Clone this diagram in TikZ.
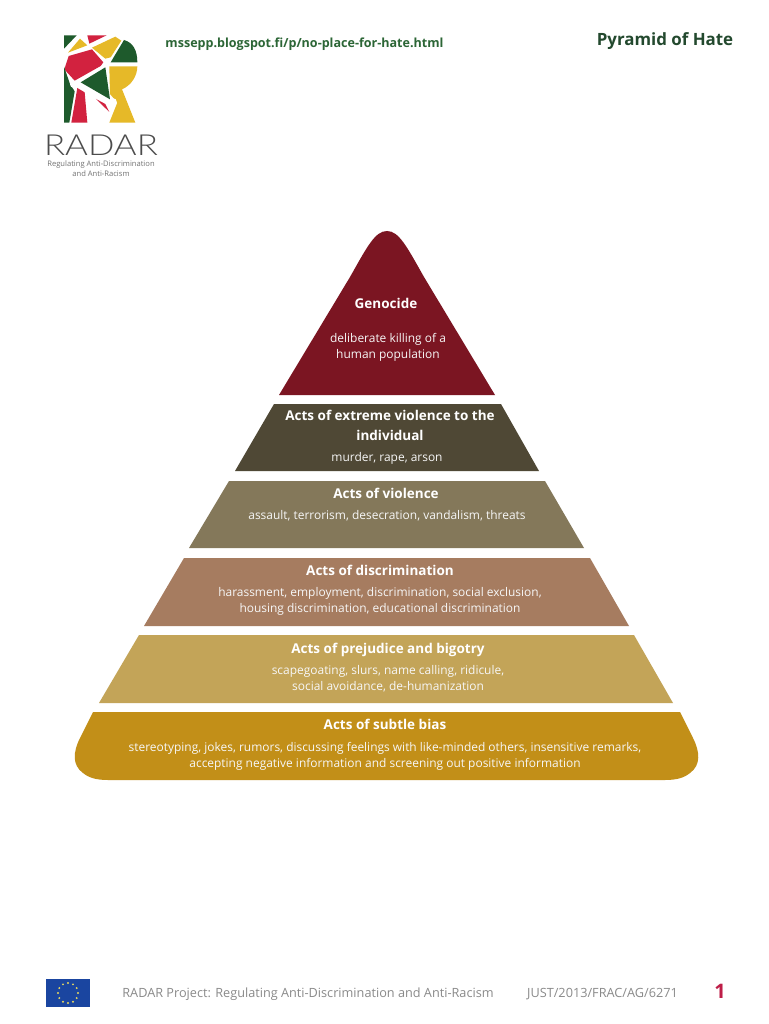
\documentclass[tikz,border=0pt]{standalone}
\usepackage{fontspec}
\setmainfont{Open Sans}
\newfontfamily\logofont{Lato Light}
\usetikzlibrary{shapes.geometric}
\definecolor{cGeno}{HTML}{7B1522}
\definecolor{cExt}{HTML}{4F4835}
\definecolor{cVio}{HTML}{84785A}
\definecolor{cDis}{HTML}{A67C60}
\definecolor{cPre}{HTML}{C3A458}
\definecolor{cBias}{HTML}{C28F18}
\definecolor{lRed}{HTML}{D2223F}
\definecolor{lGreen}{HTML}{1E5A2C}
\definecolor{lYellow}{HTML}{E6B928}
\definecolor{cHead}{HTML}{2C6636}
\definecolor{cTitle}{HTML}{23492E}
\definecolor{cFoot}{HTML}{8A8A8A}
\definecolor{cEU}{HTML}{1A45A0}
\definecolor{cStar}{HTML}{E8D860}
\definecolor{cPage}{HTML}{BE1E48}
\tikzset{
  band/.style={draw=none},
  ttl/.style={text=white,font=\fontsize{13.5}{15}\selectfont\bfseries,align=center,anchor=center,inner sep=0pt},
  sub/.style={text=white!97!black,font=\fontsize{11.95}{16}\selectfont,align=center,anchor=center,inner sep=0pt},
  foot/.style={text=cFoot,font=\fontsize{12.7}{14}\selectfont,anchor=center,inner sep=0pt},
  head/.style={text=cHead,font=\bfseries,anchor=center,inner sep=0pt},
  logotxt/.style={text=black!55,font=\fontsize{7.6}{10.6}\selectfont,align=center,anchor=center,inner sep=0pt}
}
\begin{document}
\begin{tikzpicture}[x=1pt,y=-1pt]
\useasboundingbox[fill=white] (0,0) rectangle (768,1024);
% pyramid
\fill[cGeno,band] (279,395) -- (350,277) .. controls (367,247) and (375,231) .. (387,231) .. controls (399,231) and (407,247) .. (424,277) -- (495,395) -- cycle;
\fill[cExt,band] (274,404) -- (501,404) -- (539,471) -- (235,471) -- cycle;
\fill[cVio,band] (229,481) -- (545,481) -- (584,548) -- (189,548) -- cycle;
\fill[cDis,band] (184,558) -- (590,558) -- (629,626) -- (144,626) -- cycle;
\fill[cPre,band] (139,635) -- (634,635) -- (673,703) -- (99,703) -- cycle;
\fill[cBias,band] (93,712) -- (680,712) -- (693,738) .. controls (700,752) and (701,765) .. (690,773) .. controls (684,778) and (676,780) .. (665,780) -- (108,780) .. controls (97,780) and (89,778) .. (83,773) .. controls (72,765) and (73,752) .. (80,738) -- cycle;
% texts
\node[ttl] (t1) at (386,303.5) {Genocide};
\node[sub] (s1) at (388,347) {deliberate killing of a\\human population};
\node[ttl,font=\fontsize{13.5}{19.5}\selectfont\bfseries] (t2) at (390,425.5) {Acts of extreme violence to the\\individual};
\node[sub] (s2) at (387,458) {murder, rape, arson};
\node[ttl] (t3) at (386,493.5) {Acts of violence};
\node[sub] (s3) at (387,516) {assault, terrorism, desecration, vandalism, threats};
\node[ttl] (t4) at (380,570) {Acts of discrimination};
\node[sub] (s4) at (380,601) {harassment, employment, discrimination, social exclusion,\\housing discrimination, educational discrimination};
\node[ttl] (t5) at (388,649.5) {Acts of prejudice and bigotry};
\node[sub] (s5) at (388,679) {scapegoating, slurs, name calling, ridicule,\\social avoidance, de-humanization};
\node[ttl] (t6) at (385,724) {Acts of subtle bias};
\node[sub] (s6) at (385,756.5) {stereotyping, jokes, rumors, discussing feelings with like-minded others, insensitive remarks,\\accepting negative information and screening out positive information};
% header
\node[head,font=\fontsize{12.55}{14}\selectfont\bfseries] (url) at (304.5,44) {mssepp.blogspot.fi/p/no-place-for-hate.html};
\node[head,text=cTitle,font=\fontsize{16.9}{19}\selectfont\bfseries] (title) at (665,41) {Pyramid of Hate};
% footer
\node[foot] (f1) at (308,994) {RADAR Project: Regulating Anti-Discrimination and Anti-Racism};
\node[foot] (f2) at (602.5,994) {JUST/2013/FRAC/AG/6271};
\node[inner sep=0pt,text=cPage,font=\fontsize{20}{22}\selectfont\bfseries] (pg) at (720,991) {1};
% EU flag
\fill[cEU] (46,979) rectangle (90,1007);
\foreach \a in {0,30,...,330} \fill[cStar] ({68+10*cos(\a)},{993+10*sin(\a)}) circle (1.1);
% logo (coordinates of a 3x crop at 60,30)
\begin{scope}[shift={(60,30)},x=0.3333pt,y=-0.3333pt]
\fill[lGreen] (12,16) -- (50,16) -- (12,56) -- cycle;
\fill[lRed] (82,16) -- (140,16) -- (88,41) -- cycle;
\fill[lYellow] (60,26) -- (82,46) -- (24,68) -- cycle;
\fill[lYellow] (96,53) -- (166,20) -- (184,32) -- (152,82) -- (136,86) -- cycle;
\fill[lRed] (26,78) -- (96,58) -- (130,97) -- (122,108) -- (44,152) -- (13,118) -- cycle;
\fill[lGreen] (192,30) .. controls (220,38) and (232,62) .. (232,97) -- (152,97) -- cycle;
\fill[lYellow] (148,109) -- (232,109) .. controls (232,138) and (214,166) .. (186,178) -- (226,278) -- (148,278) -- (172,218) -- (150,192) -- cycle;
\fill[lGreen] (136,112) -- (62,157) -- (150,208) -- cycle;
\fill[lGreen] (12,110) -- (30,162) -- (44,184) -- (28,278) -- (12,278) -- cycle;
\fill[lRed] (52,174) -- (74,187) -- (82,278) -- (34,278) -- cycle;
\fill[lRed] (108,207) -- (136,222) -- (148,246) -- cycle;
\fill[white] (40,163) circle (10) (160,215) circle (10) (138,97) circle (7);
\end{scope}
\node[inner sep=0pt,text=black!70,xscale=1.2,font=\fontsize{29}{31}\logofont] (radar) at (101,145) {RADAR};
\node[logotxt] (rsub) at (101,168.5) {Regulating  Anti-Discrimination\\and Anti-Racism};
\end{tikzpicture}
\end{document}
